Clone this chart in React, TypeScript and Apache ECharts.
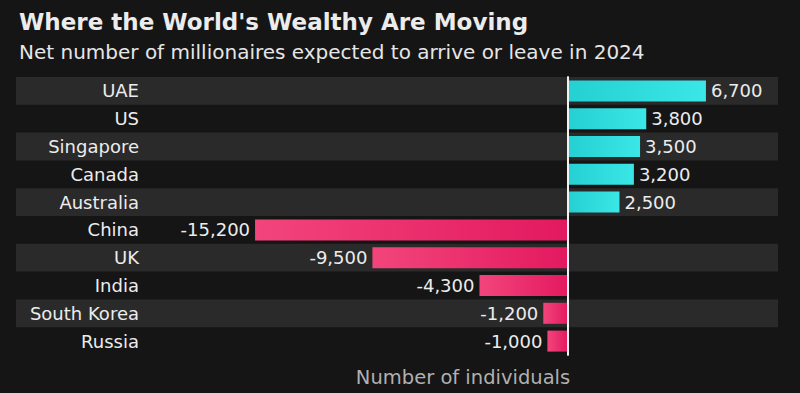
import React, { useEffect, useRef } from "react";
import * as echarts from "echarts";

const categories = ["UAE", "US", "Singapore", "Canada", "Australia", "China", "UK", "India", "South Korea", "Russia"];
const values = [6700, 3800, 3500, 3200, 2500, -15200, -9500, -4300, -1200, -1000];
const titleText = "Where the World's Wealthy Are Moving";
const subtitleText = "Net number of millionaires expected to arrive or leave in 2024";
const axisName = "Number of individuals";

const FONT = "'DejaVu Sans', sans-serif";

export default function App() {
  const ref = useRef<HTMLDivElement>(null);
  useEffect(() => {
    document.body.style.margin = "0";
    const chart = echarts.init(ref.current!, null, { renderer: "svg" });
    const posGrad = new echarts.graphic.LinearGradient(0, 0, 1, 0, [
      { offset: 0, color: "#25d0d2" },
      { offset: 1, color: "#3ae6e6" },
    ]);
    const negGrad = new echarts.graphic.LinearGradient(0, 0, 1, 0, [
      { offset: 0, color: "#f2457c" },
      { offset: 1, color: "#e3195f" },
    ]);
    chart.setOption({
      animation: false,
      backgroundColor: "#151515",
      textStyle: { fontFamily: FONT },
      title: [
        {
          text: titleText,
          left: 14,
          top: 5,
          textStyle: { color: "#ececec", fontSize: 23, fontWeight: "bold", fontFamily: FONT },
        },
        {
          text: subtitleText,
          left: 14,
          top: 37,
          textStyle: { color: "#e6e6e6", fontSize: 20, fontWeight: "normal", fontFamily: FONT },
        },
      ],
      grid: { left: 148, right: 22, top: 77, bottom: 38, containLabel: false, outerBoundsMode: "none" },
      xAxis: {
        type: "value",
        min: -20400,
        max: 10200,
        splitLine: { show: false },
        axisLine: { show: false },
        axisTick: { show: false },
        axisLabel: { show: false },
        name: axisName,
        nameLocation: "middle",
        nameGap: 12,
        nameTextStyle: { color: "#b0b0b0", fontSize: 19.5, fontFamily: FONT },
      },
      yAxis: {
        type: "category",
        data: categories,
        inverse: true,
        axisLine: { show: true, lineStyle: { color: "#d8d8d8", width: 2 } },
        axisTick: { show: false },
        axisLabel: { color: "#ececec", fontSize: 18, margin: 9, fontFamily: FONT },
      },
      series: [
        {
          type: "custom",
          silent: true,
          z: 0,
          clip: false,
          data: categories.map((_, i) => [0, i]),
          encode: { x: 0, y: 1 },
          renderItem: (params: any, api: any) => {
            const idx = api.value(1);
            if (idx % 2 !== 0) return null;
            const y = api.coord([0, idx])[1];
            const h = api.size([0, 1])[1];
            const cs = params.coordSys;
            return {
              type: "rect",
              shape: { x: 16, y: y - h / 2, width: cs.x + cs.width - 16, height: h },
              style: { fill: "#2a2a2a" },
              z2: 0,
            };
          },
        },
        {
          type: "bar",
          z: 3,
          barWidth: 21,
          data: values.map((v) => ({
            value: v,
            itemStyle: { color: v >= 0 ? posGrad : negGrad },
            label: { position: v >= 0 ? "right" : "left" },
          })),
          label: {
            show: true,
            color: "#ececec",
            fontSize: 18,
            distance: 5,
            fontFamily: FONT,
            formatter: (p: any) => Number(p.value).toLocaleString("en-US"),
          },
          markLine: {
            silent: true,
            symbol: "none",
            label: { show: false },
            lineStyle: { color: "#f2f2f2", width: 2, type: "solid" },
            data: [{ xAxis: 0 }],
          },
        },
      ],
    });
    return () => chart.dispose();
  }, []);
  return <div ref={ref} style={{ width: 800, height: 393 }} />;
}
